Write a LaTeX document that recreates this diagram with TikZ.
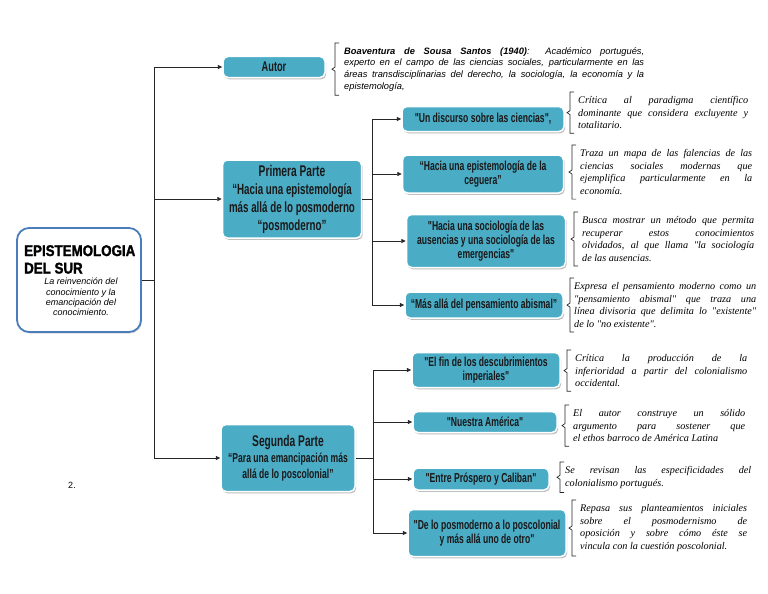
\documentclass[tikz,border=0pt]{standalone}
\usepackage{fontspec}
\setmainfont{Liberation Serif}[Ligatures=TeXOff]
\newfontfamily\arialfont{Liberation Sans}[Ligatures=TeXOff]
\newfontfamily\condfont[FakeStretch=0.66]{Liberation Sans}
\newfontfamily\headfont[FakeStretch=0.86,BoldFeatures={FakeBold=1.6}]{Liberation Sans}
\usetikzlibrary{positioning,arrows.meta,shadows}
\definecolor{cBox}{HTML}{4BACC6}
\definecolor{cEdge}{HTML}{4A7EBB}
\definecolor{cLine}{HTML}{262626}
\tikzset{
  root-box/.style={draw=cEdge,line width=1.8pt,fill=white,rounded corners=12pt,
    minimum width=124pt,minimum height=104pt,
    drop shadow={shadow xshift=1pt,shadow yshift=-1.5pt,fill=black!30,opacity=.5}},
  root-title/.style={inner sep=0pt,align=left,
    font={\headfont\bfseries\fontsize{15.5}{17.5}\selectfont}},
  root-sub/.style={inner sep=0pt,align=center,
    font={\arialfont\itshape\fontsize{9}{10.3}\selectfont}},
  part-box/.style={draw=white,line width=1.5pt,fill=cBox,rounded corners=5pt,
    drop shadow={shadow xshift=1.2pt,shadow yshift=-1.8pt,fill=black!45,opacity=.55},
    align=center,inner sep=2pt,text=black!90,
    font={\condfont\bfseries\fontsize{13}{14}\selectfont}},
  desc/.style={anchor=north west,text width=#1,align=justify,
    inner xsep=8pt,inner ysep=4pt,
    font={\itshape\fontsize{10.2}{12.8}\selectfont}},
  desc-sans/.style={desc=#1,font={\arialfont\itshape\fontsize{9.3}{11.7}\selectfont}},
  note/.style={inner sep=0pt,font={\arialfont\fontsize{9}{11}\selectfont}},
  link/.style={line width=0.8pt,draw=cLine},
  arrow/.style={-{Triangle[length=4.5pt,width=4pt]},line width=0.8pt,draw=cLine},
  brk/.style={line width=0.7pt,draw=cLine},
}
% corchete a la izquierda de un nodo de texto
\newcommand\drawbracket[1]{%
  \draw[brk] ([xshift=4pt]#1.north west) -- (#1.north west)
    -- ([yshift=2pt]#1.west) -- ([xshift=-3pt]#1.west)
    -- ([yshift=-2pt]#1.west) -- (#1.south west)
    -- ([xshift=4pt]#1.south west);}

\begin{document}
\begin{tikzpicture}[x=1pt,y=-1pt]
  \path[fill=white,use as bounding box] (0,0) rectangle (768,594);

  % raíz
  \node[root-box] (main) at (79,280) {};
  \node[root-title,anchor=north west] (mainT) at (24,245) {EPISTEMOLOGIA\\DEL SUR};
  \node[root-sub,anchor=north] (mainS) at (81,278)
    {La reinvención del\\conocimiento y la\\emancipación del\\conocimiento.};
  \node[note] (num) at (72,485) {2.};

  % primer nivel
  \node[part-box,minimum width=102pt,minimum height=21pt,
    font={\condfont\bfseries\fontsize{14}{15}\selectfont}] (autor) at (274,67) {Autor};
  \node[part-box,minimum width=139pt,minimum height=78pt,
    font={\condfont\bfseries\fontsize{14.8}{18}\selectfont}] (p1) at (292,199)
    {{\fontsize{15.5}{18}\selectfont Primera Parte}\\“Hacia una epistemología\\más allá de lo posmoderno\\“posmoderno”};
  \node[part-box,minimum width=134pt,minimum height=67pt,
    font={\condfont\bfseries\fontsize{13}{16}\selectfont}] (p2) at (288,458)
    {{\fontsize{15.5}{18}\selectfont Segunda Parte}\\“Para una emancipación más\\allá de lo poscolonial”};

  % segundo nivel
  \node[part-box,minimum width=162pt,minimum height=25pt] (c1) at (483,119) {"Un discurso sobre las ciencias",};
  \node[part-box,minimum width=161pt,minimum height=38pt] (c2) at (483,174) {“Hacia una epistemología de la\\ceguera”};
  \node[part-box,minimum width=159pt,minimum height=53pt] (c3) at (486,241) {"Hacia una sociología de las\\ausencias y una sociología de las\\emergencias"};
  \node[part-box,minimum width=158pt,minimum height=26pt] (c4) at (484,305) {“Más allá del pensamiento abismal”};
  \node[part-box,minimum width=148pt,minimum height=35pt] (c5) at (486,370) {"El fin de los descubrimientos\\imperiales"};
  \node[part-box,minimum width=144pt,minimum height=21pt] (c6) at (485,422) {"Nuestra América"};
  \node[part-box,minimum width=136pt,minimum height=22pt] (c7) at (481,479) {"Entre Próspero y Caliban"};
  \node[part-box,minimum width=158pt,minimum height=47pt] (c8) at (487,533) {"De lo posmoderno a lo poscolonial\\y más allá uno de otro"};

  % descripciones
  \node[desc-sans=300pt,inner xsep=9pt] (d0) at (335,43) {\textbf{Boaventura de Sousa Santos (1940)}: Académico portugués,\linebreak experto en el campo de las ciencias sociales, particularmente en las\linebreak áreas transdisciplinarias del derecho, la sociología, la economía y la\linebreak epistemología,};
  \node[desc=170pt] (d1) at (570,92) {Crítica al paradigma científico\linebreak dominante que considera excluyente y\linebreak totalitario.};
  \node[desc=172pt] (d2) at (572,145) {Traza un mapa de las falencias de las\linebreak ciencias sociales modernas que\linebreak ejemplifica particularmente en la\linebreak economía.};
  \node[desc=172pt] (d3) at (574,212) {Busca mostrar un método que permita\linebreak recuperar estos conocimientos\linebreak olvidados, al que llama "la sociología\linebreak de las ausencias.};
  \node[desc=182pt,inner xsep=4pt] (d4) at (570,278) {Expresa el pensamiento moderno como un\linebreak "pensamiento abismal" que traza una\linebreak línea divisoria que delimita lo "existente"\linebreak de lo "no existente".};
  \node[desc=172pt] (d5) at (567,350) {Crítica la producción de la\linebreak inferioridad a partir del colonialismo\linebreak occidental.};
  \node[desc=172pt] (d6) at (565,405) {El autor construye un sólido\linebreak argumento para sostener que\linebreak el ethos barroco de América Latina};
  \node[desc=186pt,inner xsep=5pt] (d7) at (560,462) {Se revisan las especificidades del\linebreak colonialismo portugués.};
  \node[desc=167pt] (d8) at (572,500) {Repasa sus planteamientos iniciales\linebreak sobre el posmodernismo de\linebreak oposición y sobre cómo éste se\linebreak vincula con la cuestión poscolonial.};

  \drawbracket{d0}
  \drawbracket{d1}
  \drawbracket{d2}
  \drawbracket{d3}
  \drawbracket{d4}
  \drawbracket{d5}
  \drawbracket{d6}
  \drawbracket{d7}
  \drawbracket{d8}

  % conectores
  \draw[link] (main.east) -- ++(12,0) coordinate (j0);
  \draw[arrow] (j0) |- (autor.west);
  \draw[arrow] (j0) |- (p1.west);
  \draw[arrow] (j0) |- (p2.west);
  \draw[link] (p1.east) -- ++(10,0) coordinate (j1);
  \draw[arrow] (j1) |- (c1.west);
  \draw[arrow] (j1) |- (c2.west);
  \draw[arrow] (j1) |- (c3.west);
  \draw[arrow] (j1) |- (c4.west);
  \draw[link] (p2.east) -- ++(18,0) coordinate (j2);
  \draw[arrow] (j2) |- (c5.west);
  \draw[arrow] (j2) |- (c6.west);
  \draw[arrow] (j2) |- (c7.west);
  \draw[arrow] (j2) |- (c8.west);
\end{tikzpicture}
\end{document}
